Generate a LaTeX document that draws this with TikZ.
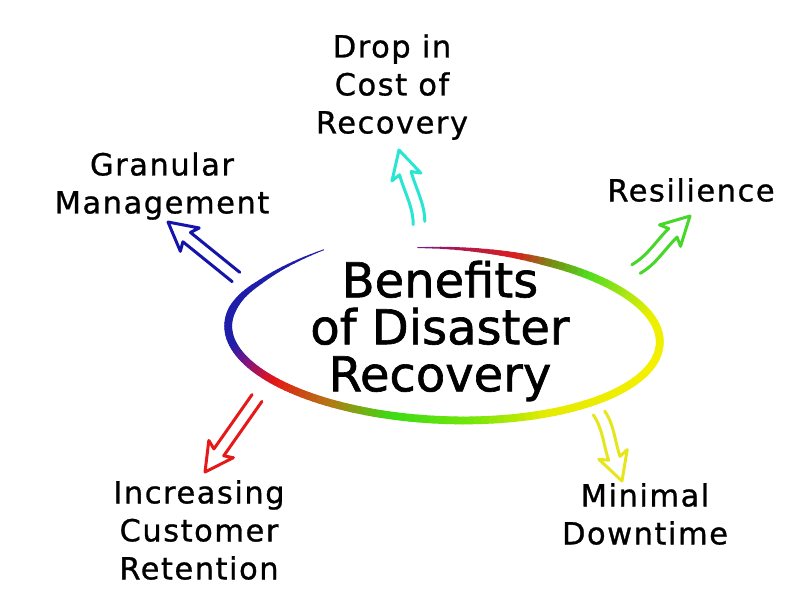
\documentclass[tikz,border=0pt]{standalone}
\usepackage{fontspec}
\setmainfont{DejaVu Sans}
\newfontfamily\markerfont[FakeBold=0.9,LetterSpace=5]{DejaVu Sans}
\newfontfamily\titlefont[FakeBold=1.3]{DejaVu Sans}
\definecolor{e1}{RGB}{30,30,170}
\definecolor{e2}{RGB}{130,20,130}
\definecolor{e3}{RGB}{230,20,20}
\definecolor{e4}{RGB}{180,120,20}
\definecolor{e5}{RGB}{60,220,20}
\definecolor{e6}{RGB}{120,230,10}
\definecolor{e7}{RGB}{230,235,0}
\definecolor{e8}{RGB}{245,240,0}
\definecolor{e9}{RGB}{235,240,0}
\definecolor{e10}{RGB}{170,230,20}
\definecolor{e11}{RGB}{80,220,30}
\definecolor{e12}{RGB}{120,140,20}
\definecolor{e13}{RGB}{220,30,30}
\definecolor{e14}{RGB}{170,25,80}
\definecolor{e15}{RGB}{110,30,140}
\definecolor{arblue}{RGB}{20,20,170}
\definecolor{arcyan}{RGB}{40,230,210}
\definecolor{argreen}{RGB}{70,215,40}
\definecolor{arred}{RGB}{230,25,25}
\definecolor{aryellow}{RGB}{230,230,30}
\newdimen\hax \newdimen\hay \newdimen\hbx \newdimen\hby
\newcommand\hollowarrow[4]{%
  \pgfextractx{\hax}{\pgfpointanchor{#2}{center}}%
  \pgfextracty{\hay}{\pgfpointanchor{#2}{center}}%
  \pgfextractx{\hbx}{\pgfpointanchor{#3}{center}}%
  \pgfextracty{\hby}{\pgfpointanchor{#3}{center}}%
  \pgfmathsetmacro\harrang{atan2(\hby-\hay,\hbx-\hax)}%
  \pgfmathsetmacro\harrlen{veclen(\hbx-\hax,\hby-\hay)}%
  \pgfmathsetmacro\harrb{\harrlen-24}%
  \draw[#1, shift={(#2)}, rotate=\harrang, x=1pt, y=1pt]
    (0,6) .. controls ({0.35*\harrb*cos(#4)},{6+0.35*\harrb*sin(#4)}) and ({0.65*\harrb},6) .. (\harrb,6)
    -- (\harrb-4,15) -- (\harrlen,0) -- (\harrb-4,-15) -- (\harrb,-6)
    .. controls ({0.65*\harrb},-6) and ({0.35*\harrb*cos(#4)},{-6+0.35*\harrb*sin(#4)}) .. (0,-6);
}
\tikzset{
  lbl/.style={font=\markerfont\fontsize{30.5}{38}\selectfont, align=center, inner sep=0pt, text=black},
  titlelbl/.style={font=\titlefont\fontsize{48}{47}\selectfont, align=center, inner sep=0pt, text=black},
  harr/.style={line width=3pt, line join=round, line cap=round},
  declare function={
    ek(\t)=1+0.12*max(0,(150-\t)/25);
    ex(\t)=444+216*cos(\t)*cos(-2.5)-86*ek(\t)*sin(\t)*sin(-2.5);
    ey(\t)=334-(216*cos(\t)*sin(-2.5)+86*ek(\t)*sin(\t)*cos(-2.5));
    ew(\t)=0.8+7*min(1,(\t-125)/45,(458-\t)/35);
  }
}
\begin{document}
\begin{tikzpicture}[x=1pt,y=-1pt]
\useasboundingbox[fill=white] (0,0) rectangle (800,606);
% rainbow ellipse
\foreach \ta/\tb/\ca/\cb in {125/195/e1/e1, 195/207/e1/e2, 207/220/e2/e3, 220/240/e3/e4, 240/258/e4/e5,
  258/280/e5/e6, 280/300/e6/e7, 300/345/e7/e8, 345/380/e8/e9, 380/395/e9/e10, 395/410/e10/e11,
  410/422/e11/e12, 422/432/e12/e13, 432/448/e13/e14, 448/458/e14/e15}{
  \pgfmathtruncatemacro\nn{max(1,round((\tb-\ta)/2))}
  \foreach \i in {1,...,\nn}{
    \pgfmathsetmacro\sa{\ta+(\i-1)*(\tb-\ta)/\nn}
    \pgfmathsetmacro\sb{\ta+\i*(\tb-\ta)/\nn}
    \pgfmathtruncatemacro\pp{100*(\i-0.5)/\nn}
    \pgfmathsetmacro\ww{ew((\sa+\sb)/2)}
    \draw[line width=\ww pt, line cap=round, color=\cb!\pp!\ca] ({ex(\sa)},{ey(\sa)}) -- ({ex(\sb)},{ey(\sb)});
  }
}
% texts
\node[titlelbl] (title) at (440,331) {Benefits\\of Disaster\\Recovery};
\node[lbl] (drop) at (392,87) {Drop in\\Cost of\\Recovery};
\node[lbl] (gran) at (162,186) {Granular\\Management};
\node[lbl] (res) at (691,190) {Resilience};
\node[lbl] (inc) at (199,530) {Increasing\\Customer\\Retention};
\node[lbl] (mini) at (645,514) {Minimal\\Downtime};
% arrow ends
\coordinate (b1) at (236,277); \coordinate (b2) at (168,222);
\coordinate (c1) at (419,223); \coordinate (c2) at (399,150);
\coordinate (g1) at (636,269); \coordinate (g2) at (690,216);
\coordinate (r1) at (257,398); \coordinate (r2) at (205,472);
\coordinate (y1) at (599,413); \coordinate (y2) at (622,481);
\hollowarrow{harr, arblue}{b1}{b2}{0}
\hollowarrow{harr, arcyan}{c1}{c2}{-15}
\hollowarrow{harr, argreen}{g1}{g2}{-15}
\hollowarrow{harr, arred}{r1}{r2}{0}
\hollowarrow{harr, aryellow}{y1}{y2}{16}
\end{tikzpicture}
\end{document}
